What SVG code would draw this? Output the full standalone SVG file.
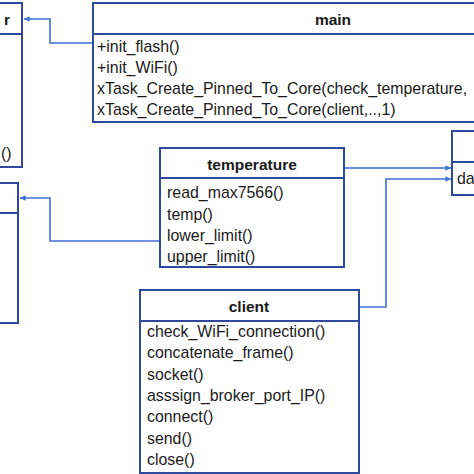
<svg xmlns="http://www.w3.org/2000/svg" width="474" height="474" viewBox="0 0 474 474">
<style>
.box{fill:#fff;stroke:#2E4A9E;stroke-width:2}
.sep{stroke:#2E4A9E;stroke-width:2}
.t{font-family:"Liberation Sans",Arial,sans-serif;font-size:15.9px;fill:#1a1a1a}
.h{font-family:"Liberation Sans",Arial,sans-serif;font-size:15.5px;font-weight:bold;fill:#1a1a1a}
.c{fill:none;stroke:#3C6FD6;stroke-width:1.6}
</style>
<defs>
<marker id="ah" viewBox="0 0 6 6" refX="6" refY="3" markerWidth="3.5" markerHeight="3.5" orient="auto" markerUnits="strokeWidth">
<path d="M0,0 L6,3 L0,6 z" fill="#3C6FD6"/>
</marker>
</defs>
<rect width="474" height="474" fill="#fff"/>
<g id="connectors">
<path class="c" d="M93,43 H50 V19 H24" marker-end="url(#ah)"/>
<path class="c" d="M160,241 H50 V198 H20" marker-end="url(#ah)"/>
<path class="c" d="M345,168 H451" marker-start="url(#ah)" marker-end="url(#ah)"/>
<path class="c" d="M360,307 H386 V179 H451" marker-end="url(#ah)"/>
</g>
<g id="node-topleft">
<rect class="box" x="-20" y="3" width="42" height="164"/>
<line class="sep" x1="-20" y1="34" x2="22" y2="34"/>
<text class="h" x="10" y="25" text-anchor="end">r</text>
<text class="t" x="1" y="159">()</text>
</g>
<g id="node-midleft">
<rect class="box" x="-20" y="183" width="38" height="140"/>
<line class="sep" x1="-20" y1="213" x2="18" y2="213"/>
</g>
<g id="node-main">
<rect class="box" x="93" y="3" width="400" height="119"/>
<line class="sep" x1="93" y1="34" x2="493" y2="34"/>
<text class="h" x="333" y="25" text-anchor="middle">main</text>
<text class="t" x="97" y="52">+init_flash()</text>
<text class="t" x="97" y="73">+init_WiFi()</text>
<text class="t" x="97" y="94">xTask_Create_Pinned_To_Core(check_temperature,</text>
<text class="t" x="97" y="115">xTask_Create_Pinned_To_Core(client,..,1)</text>
</g>
<g id="node-right">
<rect class="box" x="452" y="131" width="40" height="64"/>
<line class="sep" x1="452" y1="162" x2="492" y2="162"/>
<text class="t" x="457" y="184">da</text>
</g>
<g id="node-temperature">
<rect class="box" x="160" y="148" width="184" height="119"/>
<line class="sep" x1="160" y1="178" x2="344" y2="178"/>
<text class="h" x="252" y="170" text-anchor="middle">temperature</text>
<text class="t" x="167" y="198">read_max7566()</text>
<text class="t" x="167" y="220">temp()</text>
<text class="t" x="167" y="241">lower_limit()</text>
<text class="t" x="167" y="262">upper_limit()</text>
</g>
<g id="node-client">
<rect class="box" x="140" y="290" width="219" height="183"/>
<line class="sep" x1="140" y1="321" x2="359" y2="321"/>
<text class="h" x="249" y="312" text-anchor="middle">client</text>
<text class="t" x="147" y="337">check_WiFi_connection()</text>
<text class="t" x="147" y="358">concatenate_frame()</text>
<text class="t" x="147" y="380">socket()</text>
<text class="t" x="147" y="401">asssign_broker_port_IP()</text>
<text class="t" x="147" y="422">connect()</text>
<text class="t" x="147" y="444">send()</text>
<text class="t" x="147" y="465">close()</text>
</g>
</svg>
